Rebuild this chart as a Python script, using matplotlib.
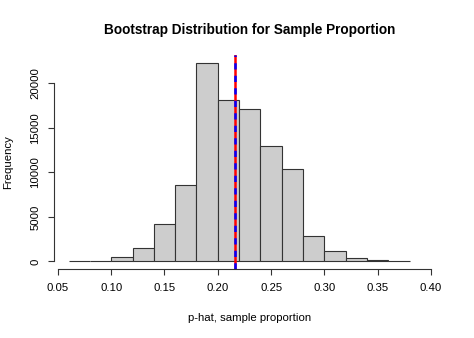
import matplotlib.pyplot as plt
import numpy as np

plt.rcParams["font.family"] = ["Liberation Sans", "DejaVu Sans"]

# bootstrap histogram, bins of width 0.02
bin_edges = [0.06, 0.08, 0.10, 0.12, 0.14, 0.16, 0.18, 0.20, 0.22,
             0.24, 0.26, 0.28, 0.30, 0.32, 0.34, 0.36, 0.38]
counts = [20, 100, 450, 1470, 4210, 8530, 22250, 18080,
          17060, 12930, 10370, 2860, 1170, 380, 110, 30]
p_hat = 0.216

x_ticks = [0.05, 0.10, 0.15, 0.20, 0.25, 0.30, 0.35, 0.40]
y_ticks = [0, 5000, 10000, 15000, 20000]

fig = plt.figure(figsize=(4.74, 3.38), dpi=100)
ax = fig.add_axes([0.114, 0.203, 0.826, 0.634])

edges = np.array(bin_edges)
ax.bar(edges[:-1], counts, width=np.diff(edges), align="edge",
       color="#cdcdcd", edgecolor="#333333", linewidth=0.8)

ax.axvline(p_hat, color="red", linewidth=1.8)
ax.axvline(p_hat, color="blue", linewidth=1.8, linestyle=(0, (2.5, 2.5)))

ax.set_xlim(0.0464, 0.4136)
ax.set_ylim(-890, 23140)

for side in ["top", "right"]:
    ax.spines[side].set_visible(False)
ax.spines["left"].set_bounds(0, 20000)
ax.spines["bottom"].set_bounds(0.05, 0.40)
for side in ["left", "bottom"]:
    ax.spines[side].set_color("#333333")
    ax.spines[side].set_linewidth(0.8)

ax.set_xticks(x_ticks)
ax.set_xticklabels([f"{v:.2f}" for v in x_ticks])
ax.set_yticks(y_ticks)
ax.set_yticklabels([str(v) for v in y_ticks], rotation=90, va="center")
ax.tick_params(length=4, width=0.8, color="#333333", labelsize=8.2, pad=6)

ax.set_title("Bootstrap Distribution for Sample Proportion",
             fontsize=9.8, fontweight="bold", pad=15)
ax.set_xlabel("p-hat, sample proportion", fontsize=8.2, labelpad=14)
ax.set_ylabel("Frequency", fontsize=8.2, labelpad=12)

fig.savefig("out.png", dpi=100)
